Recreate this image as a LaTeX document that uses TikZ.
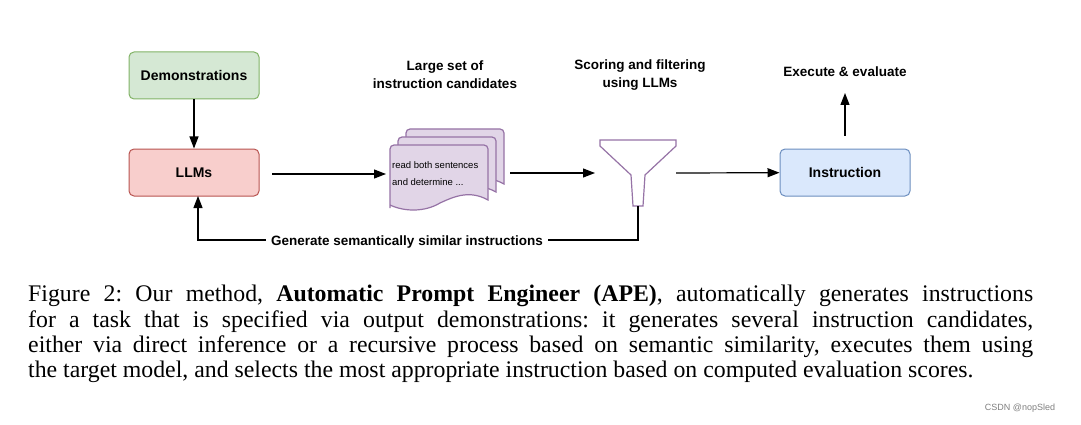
\documentclass[tikz,border=0pt]{standalone}
\usepackage{fontspec}
\setmainfont{Liberation Serif}
\newfontfamily\sans{Liberation Sans}
\usetikzlibrary{arrows.meta}
\definecolor{gfill}{HTML}{D5E8D4}\definecolor{gline}{HTML}{82B366}
\definecolor{rfill}{HTML}{F8CECC}\definecolor{rline}{HTML}{B85450}
\definecolor{bfill}{HTML}{DAE8FC}\definecolor{bline}{HTML}{6C8EBF}
\definecolor{pfill}{HTML}{E1D5E7}\definecolor{pline}{HTML}{9673A6}
\begin{document}
\frenchspacing
\begin{tikzpicture}[x=1pt,y=-1pt,
 box/.style={draw,rounded corners=5pt,line width=1pt,minimum width=130pt,minimum height=47pt,font=\sans\bfseries\fontsize{14}{16}\selectfont},
 lbl/.style={font=\sans\bfseries\fontsize{13.5}{18}\selectfont,align=center},
 arr/.style={-{Triangle[length=12pt,width=9pt]},line width=1.2pt},
 doc/.style={draw=pline,fill=pfill,line width=1.2pt}]
\useasboundingbox (0,0) rectangle (1081,425);
\fill[white] (0,0) rectangle (1081,425);
\node[box,fill=gfill,draw=gline] (demo) at (194,75.5) {Demonstrations};
\node[box,fill=rfill,draw=rline] (llm) at (194,172.5) {LLMs};
\node[box,fill=bfill,draw=bline] (inst) at (845,172.5) {Instruction};
\draw[arr] (demo) -- (llm);
% documents
\foreach \d in {16,8,0}{
 \path[doc] (390+\d,208-\d) [rounded corners=4pt]-- (390+\d,145-\d) -- (488+\d,145-\d) [sharp corners]-- (488+\d,200-\d)
  .. controls (470+\d,190-\d) and (455+\d,196-\d) .. (440+\d,203-\d)
  .. controls (425+\d,212-\d) and (405+\d,212-\d) .. (390+\d,205-\d) -- cycle;
}
\node[font=\sans\fontsize{9.5}{12}\selectfont,anchor=west,align=left,inner sep=1pt] (doct) at (391,174) {read both sentences\\[5pt]and determine ...};
\coordinate (docl) at (386,174);
\coordinate (docr) at (510,173);
% funnel
\draw[doc,fill=white] (600,140) -- (676,140) -- (676,146) -- (645,175) -- (643,206) -- (633,206) -- (631,175) -- (600,146) -- cycle;
\coordinate (funL) at (595,173);
\coordinate (funR) at (676,173);
\coordinate (funB) at (638,206);
\draw[arr] (272,174) -- (docl);
\draw[arr] (docr) -- (funL);
\draw[arr] (funR) -- (inst);
\coordinate (ex) at (845,93);
\draw[arr] (845,136) -- (ex);
\node[lbl] (t1) at (845,72) {Execute \& evaluate};
\node[lbl] (t2) at (640,75) {Scoring and filtering\\using LLMs};
\node[lbl] (t3) at (445,75) {Large set of\\instruction candidates};
\draw[arr] (funB) -- (638,240) -- (198,240) -- (198,196);
\node[lbl,fill=white,inner xsep=5pt] (gen) at (407,242) {Generate semantically similar instructions};
\node[anchor=north west,text width=1005pt,align=justify,inner sep=0pt,font=\fontsize{23.8}{25.3}\selectfont] (cap) at (28,285)
{Figure 2: Our method, \textbf{Automatic Prompt Engineer (APE)}, automatically generates instructions\linebreak for a task that is specified via output demonstrations: it generates several instruction candidates,\linebreak either via direct inference or a recursive process based on semantic similarity, executes them using\linebreak the target model, and selects the most appropriate instruction based on computed evaluation scores.};
\node[font=\sans\fontsize{9}{10}\selectfont,text=gray] (wm) at (1020,408) {CSDN @nopSled};
\end{tikzpicture}
\end{document}
